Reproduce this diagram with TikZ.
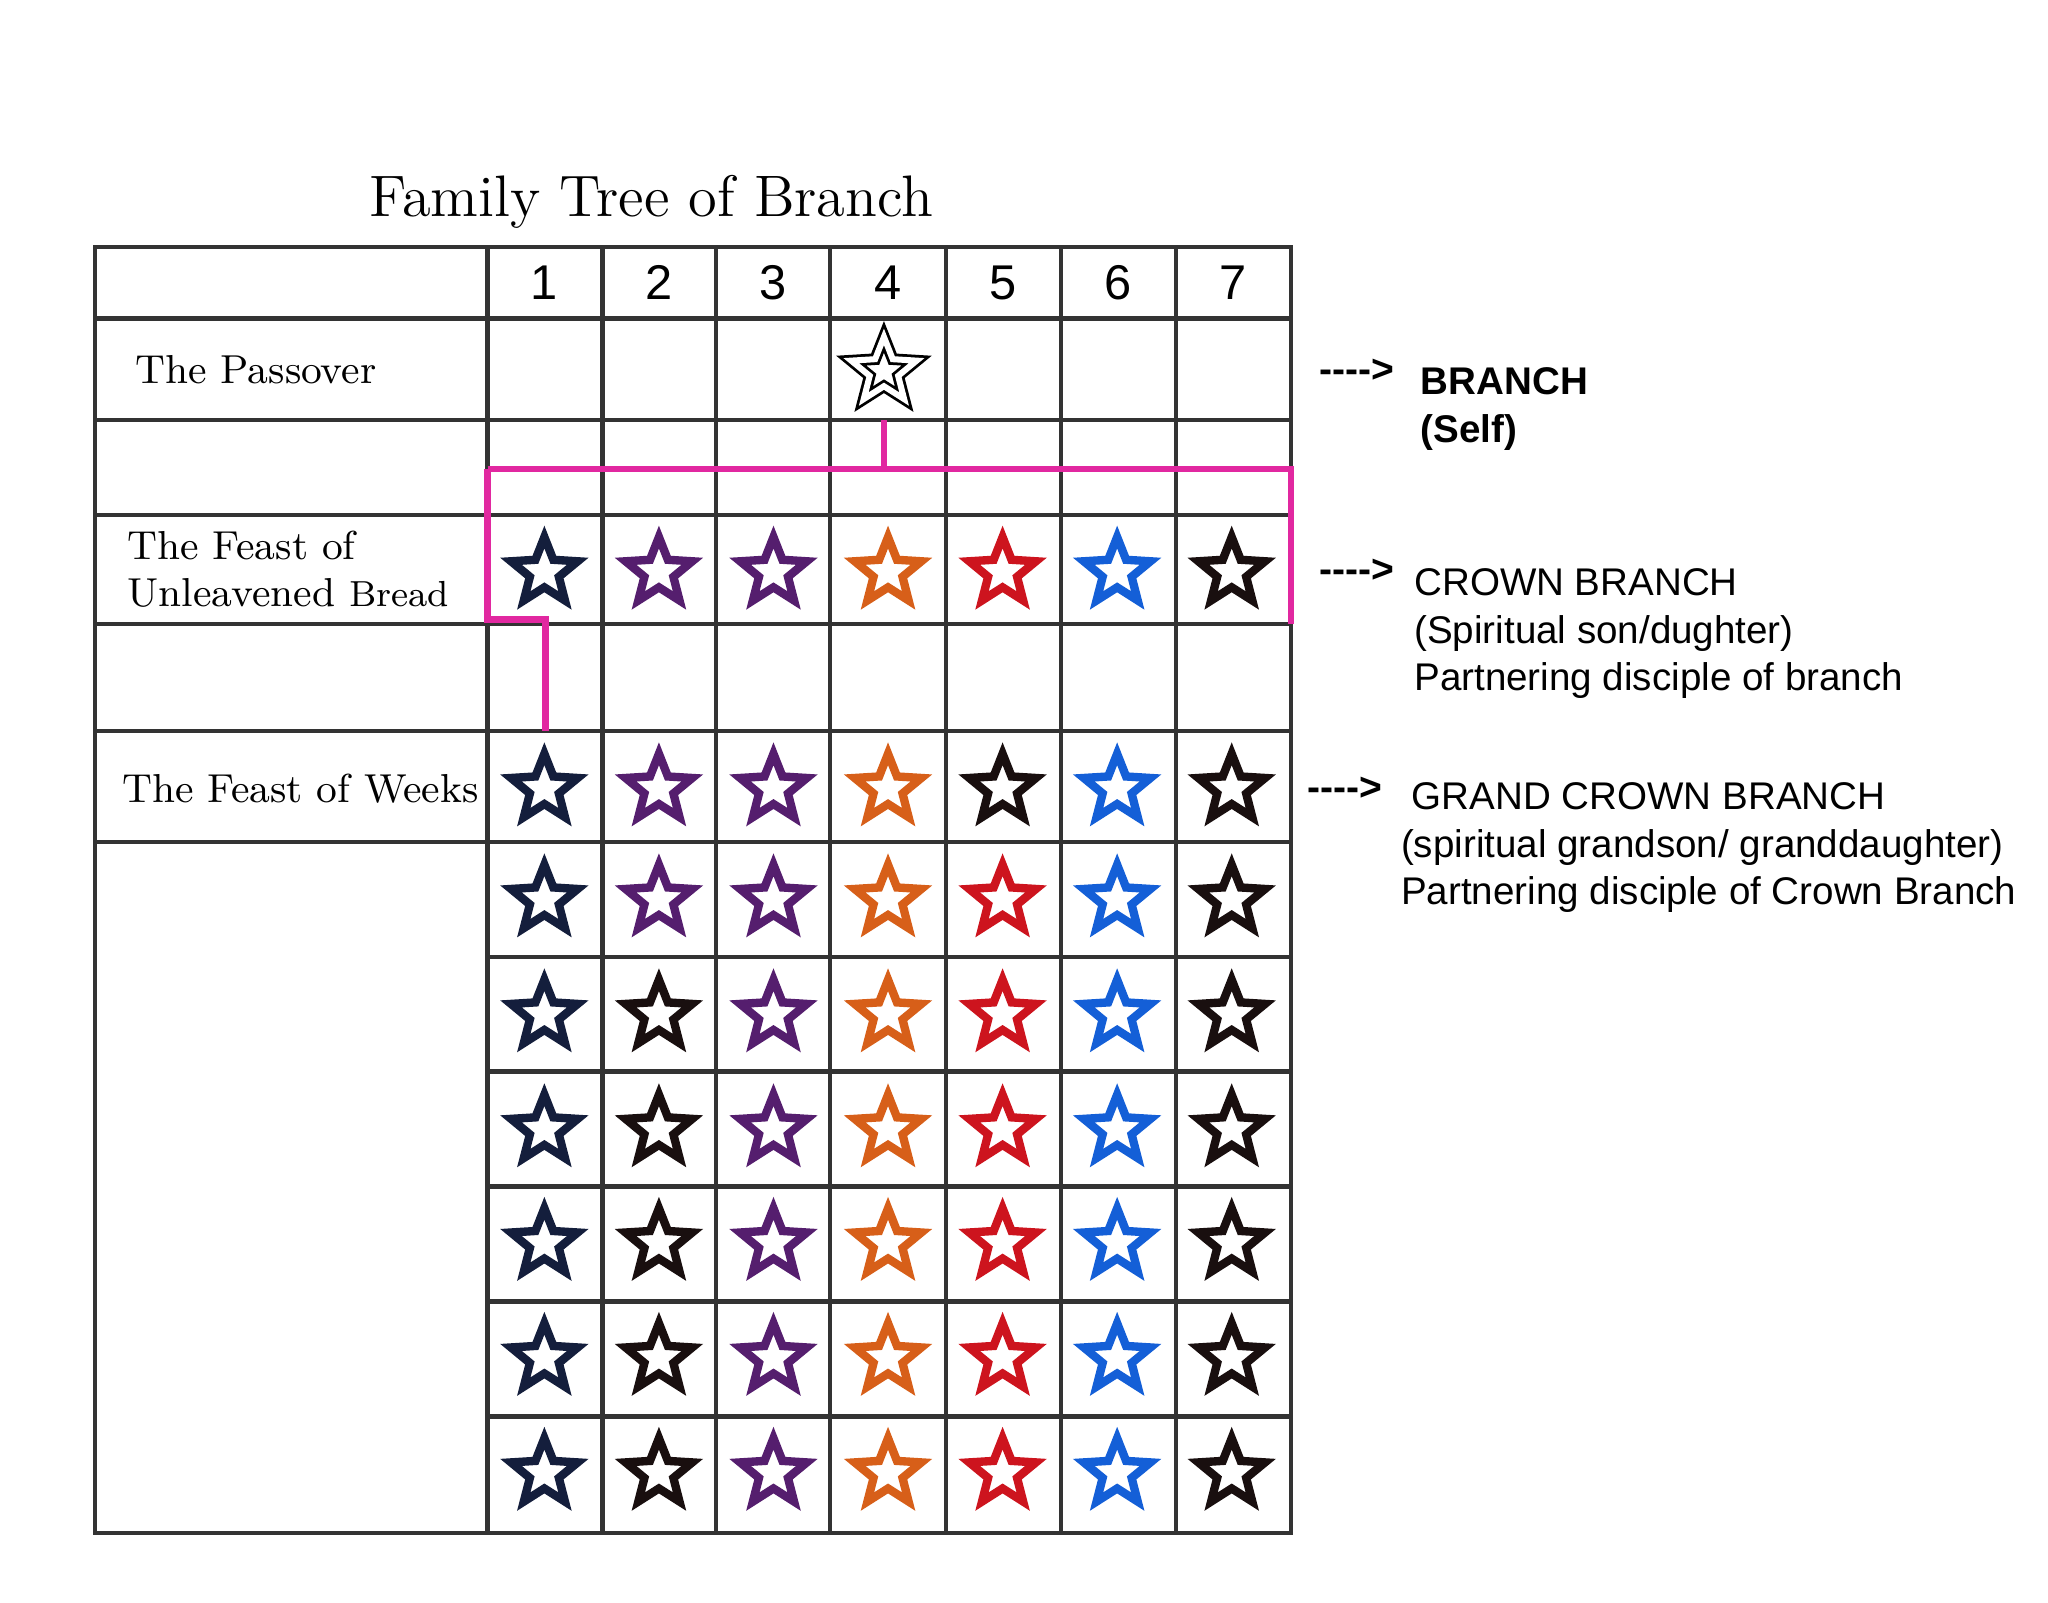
\documentclass[tikz,border=0pt]{standalone}
\usepackage{fontspec}
\newfontfamily\sans{Liberation Sans}
\usetikzlibrary{shapes.geometric}
\definecolor{cnavy}{RGB}{20,30,60}
\definecolor{cpurple}{RGB}{85,30,110}
\definecolor{corange}{RGB}{215,95,25}
\definecolor{cred}{RGB}{205,20,30}
\definecolor{cblue}{RGB}{20,95,215}
\definecolor{cblack}{RGB}{25,15,15}
\definecolor{cpink}{RGB}{225,40,160}
\tikzset{
  grid/.style={draw=black!80, line width=0.9pt},
  starmark/.style={star, star points=5, star point ratio=2.3, minimum size=0.53cm,
    inner sep=0pt, draw=#1, line width=1.8pt, fill=white},
  rowlabel/.style={anchor=west, font=\fontsize{8.7}{10.2}\selectfont, align=left},
  sidelabel/.style={anchor=north west, font=\sans\fontsize{8.3}{10.2}\selectfont, align=left},
  arrowtext/.style={font=\sans\bfseries\fontsize{8.4}{10}\selectfont},
  link/.style={draw=cpink, line width=1.4pt}
}
\begin{document}
\begin{tikzpicture}[x=0.01cm,y=-0.01cm]
    \useasboundingbox (0,0) rectangle (1550,1213);
    \node (title) at (493,153) {\fontsize{12.6}{15}\selectfont Family Tree of Branch};

    % grid
    \draw[grid] (72,187) rectangle (977,1160);
    \foreach \x in {369,456,542,628,716,803,890}
        \draw[grid] (\x,187) -- (\x,1160);
    \foreach \y in {241,318,390,472,553,637}
        \draw[grid] (72,\y) -- (977,\y);
    \foreach \y in {355,724,811,898,985,1072}
        \draw[grid] (369,\y) -- (977,\y);

    % column numbers
    \foreach \n/\x in {1/412,2/499,3/585,4/672,5/759,6/846,7/933}
        \node[font=\sans\fontsize{10.5}{12}\selectfont] (num\n) at (\x,214) {\n};

    \node[rowlabel] (passover) at (90,280) {The Passover};
    \node[rowlabel] (unleavened) at (84,431) {The Feast of\\Unleavened {\fontsize{7.8}{10}\selectfont Bread}};
    \node[rowlabel] (weeks) at (80,597) {The Feast of Weeks};

    % stars
    \node[starmark=black, line width=0.6pt, double, double distance=1.3pt, minimum size=0.52cm] (self) at (669,281) {};
    \foreach \c [count=\i] in {cnavy,cpurple,cpurple,corange,cred,cblue,cblack}
        \node[starmark=\c] (u\i) at ({412+(\i-1)*86.7},433) {};
    \foreach \c [count=\i] in {cnavy,cpurple,cpurple,corange,cblack,cblue,cblack}
        \node[starmark=\c] (w\i) at ({412+(\i-1)*86.7},597) {};
    \foreach \y [count=\r] in {681,768,855,941,1028,1115}
        \foreach \c [count=\i] in {cnavy,cblack,cpurple,corange,cred,cblue,cblack}{
            \ifnum\r=1 \ifnum\i=2 \def\c{cpurple}\fi\fi
            \node[starmark=\c] (g\r-\i) at ({412+(\i-1)*86.7},\y) {};
        }

    % pink links
    \draw[link] (self.south |- 0,318) -- (669,355);
    \draw[link] (369,355) -- (977,355) -- (977,472);
    \draw[link] (369,355) -- (369,469) -- (413,469) -- (413,553);

    % side labels
    \node[sidelabel] (lbranch) at (1063,266) {\textbf{BRANCH}\\\textbf{(Self)}};
    \node[arrowtext] (a1) at (1027,281) {---->};
    \node[sidelabel] (lcrown) at (1058,418) {CROWN BRANCH\\(Spiritual son/dughter)\\Partnering disciple of branch};
    \node[arrowtext] (a2) at (1027,432) {---->};
    \node[sidelabel] (lgrand) at (1048,580) {\ GRAND CROWN BRANCH\\(spiritual grandson/ granddaughter)\\Partnering disciple of Crown Branch};
    \node[arrowtext] (a3) at (1018,597) {---->};
\end{tikzpicture}
\end{document}
